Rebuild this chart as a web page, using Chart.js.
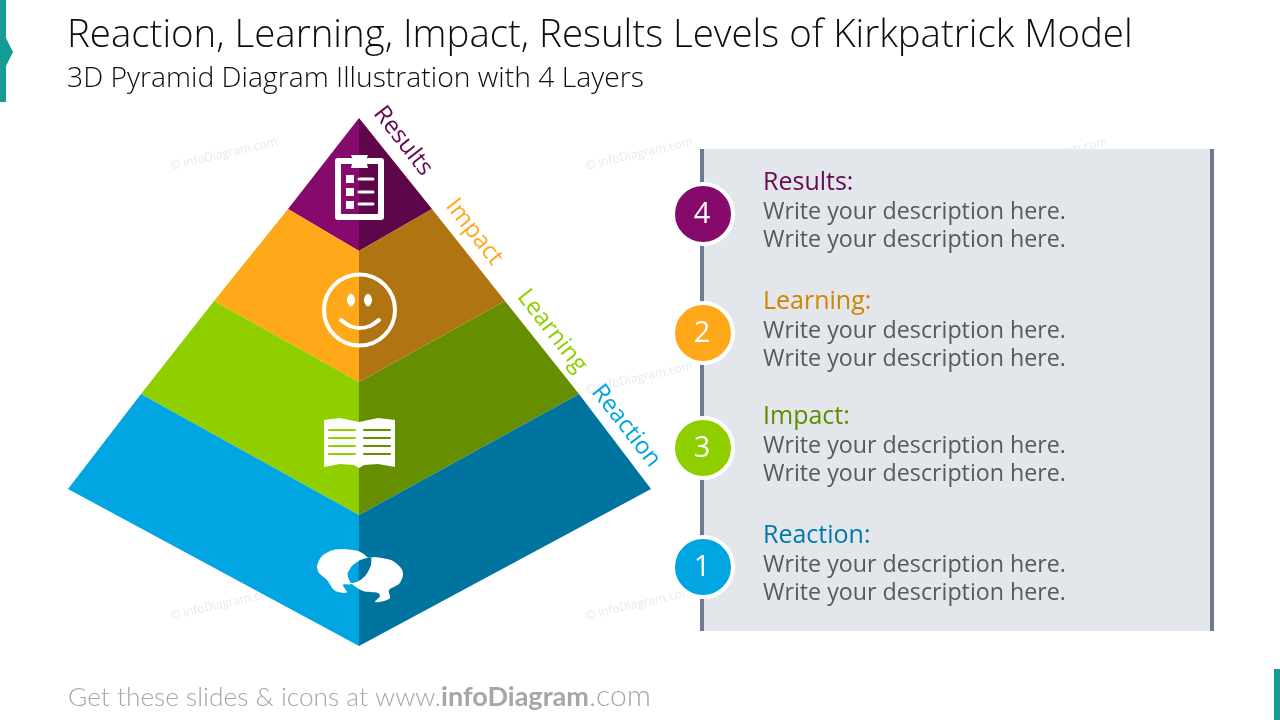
<!DOCTYPE html>
<html><head><meta charset="utf-8">
<style>html,body{margin:0;padding:0;background:#fff}canvas{display:block}</style>
<script src="https://cdn.jsdelivr.net/npm/chart.js@4/dist/chart.umd.min.js"></script>
</head><body><canvas id="c" width="1280" height="720"></canvas>
<script>
// ---- data ----
const titleText = "Reaction, Learning, Impact, Results Levels of Kirkpatrick Model";
const subtitleText = "3D Pyramid Diagram Illustration with 4 Layers";
const layerNames = ["Results", "Impact", "Learning", "Reaction"];
const listNames = ["Results:", "Learning:", "Impact:", "Reaction:"];
const listNumbers = ["4", "2", "3", "1"];
const descriptionText = "Write your description here.";
const edgeY = [118, 209, 301, 394, 489];
const leftEdgeX = [359, 288, 214, 141, 68];
const rightEdgeX = [359, 432, 505, 579, 651];
const ridgeY = [118, 251, 382, 515, 646];
const ridgeX = 359;
const badgeY = [214, 333, 448, 567];
const badgeX = 703;
const listHeadY = [190, 309, 424, 543];
const lightColors = ["#860A6B", "#FFA91A", "#8FCF00", "#00A5E1"];
const darkColors = ["#5E0649", "#B07512", "#658F00", "#00749F"];
const labelColors = ["#660A52", "#FFA91A", "#8FCF00", "#00A5E1"];
const badgeColors = ["#860A6B", "#FFA91A", "#8FCF00", "#00A5E1"];
const headColors = ["#660A52", "#D08400", "#5F8C00", "#0079A8"];
const panelBox = [[704,149],[1210,149],[1210,631],[704,631],[704,149]];
const panelLeftBar = [[700,149],[704,149],[704,631],[700,631],[700,149]];
const panelRightBar = [[1210,149],[1214,149],[1214,631],[1210,631],[1210,149]];
const tealTop = [[0,0],[6,0],[6,38],[13,52],[6,66],[6,102],[0,102],[0,0]];
const tealBottom = [[1274,669],[1280,669],[1280,720],[1274,720],[1274,669]];
const labelSpots = [[403,141,52],[474,232,52],[552,331,52],[626,426,52]];
const watermarkSpots = [[224,154],[639,154],[1054,154],[224,604],[639,604],[639,378]];
// icons
const clipBody = [[351,161],[338,161],[338,217],[381,217],[381,161],[368,161]];
const clipTop = [[351,155],[368,155],[366,160],[368,168],[351,168],[353,160],[351,155]];
const clipBoxes = [[[346,175],[354,175],[354,183],[346,183],[346,175]],[[346,188],[354,188],[354,196],[346,196],[346,188]],[[346,201],[354,201],[354,209],[346,209],[346,201]]];
const clipLines = [[[359,179],[373,179]],[[359,192],[373,192]],[[359,204],[373,204]]];
const smileCenter = [[359.5,310]];
const smileEyes = [[[351,293.5],[353.5,295.5],[355,300],[353.5,304.5],[351,306.5],[348.5,304.5],[347,300],[348.5,295.5],[351,293.5]],[[368,293.5],[370.5,295.5],[372,300],[370.5,304.5],[368,306.5],[365.5,304.5],[364,300],[365.5,295.5],[368,293.5]]];
const smileMouth = [[341,320],[350,326],[360,328],[370,326],[379,320]];
const bookShape = [[324,420],[340,418],[359,422],[378,418],[395,420],[395,467],[378,464],[364,465],[359,468],[354,465],[340,464],[324,467],[324,420]];
const bookRows = [430,438,446,454];
const bookLeftX = [329,342,355];
const bookRightX = [364,377,390];
const bubbleLeft = [[343,549],[358,551],[368,558],[370,567],[365,577],[352,584],[343,585],[347,592],[343,593],[334,590],[327,580],[319,573],[317,566],[322,556],[333,550],[343,549]];
const bubbleRight = [[375,557],[391,560],[401,568],[403,575],[399,584],[389,590],[390,598],[384,601],[375,602],[380,596],[378,593],[363,591],[352,584],[347,575],[353,565],[363,559],[375,557]];
const lensLeft = [[359,560.5],[352,566],[347.5,574],[351,583],[359,580.5],[359,560.5]];
const lensRight = [[359,560.5],[365,558.5],[371,558],[371,565],[366,575],[359,580.5],[359,560.5]];

// ---- datasets ----
const sets = [];
const toPts = a => a.map(p => ({x:p[0], y:p[1]}));
function shape(pts, color, tension){ sets.push({type:'scatter',showLine:true,data:toPts(pts),fill:'shape',backgroundColor:color,borderColor:color,borderWidth:0,pointRadius:0,tension:tension||0}); }
function stroke(pts, color, w, tension){ sets.push({type:'scatter',showLine:true,data:toPts(pts),fill:false,borderColor:color,borderWidth:w,pointRadius:0,tension:tension||0,borderCapStyle:'round',borderJoinStyle:'round'}); }

shape(panelBox,"#E3E6EB"); shape(panelLeftBar,"#6F7A92"); shape(panelRightBar,"#6F7A92");
shape(tealTop,"#159C95"); shape(tealBottom,"#159C95");
for(let i=0;i<4;i++){
  const l=[[leftEdgeX[i],edgeY[i]],[leftEdgeX[i+1],edgeY[i+1]],[ridgeX,ridgeY[i+1]],[ridgeX,ridgeY[i]]];
  const r=[[ridgeX,ridgeY[i]],[ridgeX,ridgeY[i+1]],[rightEdgeX[i+1],edgeY[i+1]],[rightEdgeX[i],edgeY[i]]];
  shape(l.concat([l[0]]),lightColors[i]);
  shape(r.concat([r[0]]),darkColors[i]);
}
// clipboard
stroke(clipBody,"#fff",6);
shape(clipTop,"#fff");
clipBoxes.forEach(b=>shape(b,"#fff"));
clipLines.forEach(b=>stroke(b,"#fff",3));
// smiley
sets.push({type:'scatter',data:toPts(smileCenter),pointRadius:35.5,pointBorderWidth:4,pointBorderColor:"#fff",pointBackgroundColor:"rgba(0,0,0,0)",showLine:false});
smileEyes.forEach(e=>shape(e,"#fff",0.4));
stroke(smileMouth,"#fff",4,0.4);
// book
shape(bookShape,"#fff");
bookRows.forEach(y=>{
  stroke(bookLeftX.map(x=>[x,y]),"#8FCF00",2);
  stroke(bookRightX.map(x=>[x,y]),"#658F00",2);
});
// speech bubbles
shape(bubbleLeft,"#fff",0.3); shape(bubbleRight,"#fff",0.3);
shape(lensLeft,lightColors[3],0.2); shape(lensRight,darkColors[3],0.2);
// badges
sets.push({type:'scatter',data:badgeY.map(y=>({x:badgeX,y})),pointRadius:30,pointBorderWidth:4,pointBorderColor:"#fff",pointBackgroundColor:badgeColors,showLine:false});
sets.forEach((d,i)=>{d.order=-i; d.clip=false;});

// ---- text through scales ----
const textPlugin = {
  id:'texts',
  _t(ctx,chart,txt,x,y,font,color,opts){
    opts=opts||{};
    const X=chart.scales.x.getPixelForValue(x),Y=chart.scales.y.getPixelForValue(y);
    ctx.save();ctx.translate(X,Y);if(opts.rot)ctx.rotate(opts.rot*Math.PI/180);
    let f=font;
    if(opts.w){ctx.font=font.replace('SZ','100px');const s=100*opts.w/ctx.measureText(txt).width;f=font.replace('SZ',s.toFixed(2)+'px');}
    ctx.font=f;ctx.fillStyle=color;ctx.textAlign=opts.a||'left';ctx.textBaseline=opts.b||'alphabetic';
    ctx.fillText(txt,0,0);ctx.restore();
  },
  beforeDatasetsDraw(chart){
    const ctx=chart.ctx;
    watermarkSpots.forEach(p=>this._t(ctx,chart,"© infoDiagram.com",p[0],p[1],'12px "Open Sans"',"#E4EAF3",{rot:-13,a:'center',b:'middle'}));
  },
  afterDatasetsDraw(chart){
    const ctx=chart.ctx;
    this._t(ctx,chart,titleText,67,47,'300 SZ "Open Sans"',"#0d0d0d",{w:1066});
    this._t(ctx,chart,subtitleText,67,87,'300 SZ "Open Sans"',"#0d0d0d",{w:577});
    labelSpots.forEach((p,i)=>this._t(ctx,chart,layerNames[i],p[0],p[1],'24px "Open Sans"',labelColors[i],{rot:p[2],a:'center',b:'middle'}));
    listNames.forEach((n,i)=>{
      this._t(ctx,chart,n,763,listHeadY[i],'25px "Open Sans"',headColors[i]);
      this._t(ctx,chart,descriptionText,763,listHeadY[i]+29,'SZ "Open Sans"',"#595959",{w:303});
      this._t(ctx,chart,descriptionText,763,listHeadY[i]+57,'SZ "Open Sans"',"#595959",{w:303});
      this._t(ctx,chart,listNumbers[i],badgeX-1,badgeY[i]+1,'29px "Open Sans"',"#fff",{a:'center',b:'middle'});
    });
    this._t(ctx,chart,"Get these slides & icons at www.",68,706,'300 SZ Lato',"#A6A6A6",{w:373});
    this._t(ctx,chart,"infoDiagram",441,706,'700 SZ Lato',"#A6A6A6",{w:148});
    this._t(ctx,chart,".com",589,706,'300 SZ Lato',"#A6A6A6",{w:62});
  }
};

new Chart(document.getElementById('c'),{
  type:'scatter',
  data:{datasets:sets},
  plugins:[textPlugin],
  options:{
    responsive:false,animation:false,devicePixelRatio:1,
    layout:{padding:0,autoPadding:false},
    plugins:{legend:{display:false},tooltip:{enabled:false},title:{display:false}},
    scales:{
      x:{type:'linear',min:0,max:1280,display:false},
      y:{type:'linear',min:0,max:720,reverse:true,display:false}
    }
  }
});
</script></body></html>
